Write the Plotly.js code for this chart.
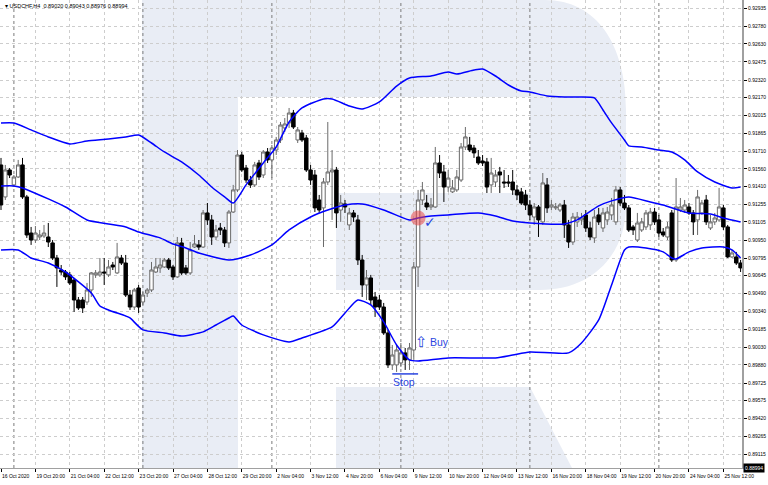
<!DOCTYPE html>
<html><head><meta charset="utf-8">
<script src="https://cdn.plot.ly/plotly-3.0.1.min.js"></script>
<style>html,body{margin:0;padding:0;background:#fff}#chart{width:768px;height:485px}</style>
</head><body><div id="chart"></div>
<script>
const symbolTitle = '\u25BE USDCHF,H4  0.89020 0.89043 0.88976 0.88994';
const lastPrice = '0.88994';

const xTickLabels = ['16 Oct 2020','19 Oct 20:00','21 Oct 04:00','22 Oct 12:00','23 Oct 20:00','27 Oct 04:00','28 Oct 12:00','29 Oct 20:00','2 Nov 04:00','3 Nov 12:00','4 Nov 20:00','6 Nov 04:00','9 Nov 12:00','10 Nov 20:00','12 Nov 04:00','13 Nov 12:00','16 Nov 20:00','18 Nov 04:00','19 Nov 12:00','20 Nov 20:00','24 Nov 04:00','25 Nov 12:00'];
const barsPerLabel = 8;

const yTickLabels = ['0.92935','0.92780','0.92630','0.92475','0.92320','0.92170','0.92015','0.91865','0.91710','0.91560','0.91410','0.91255','0.91105','0.90950','0.90795','0.90645','0.90490','0.90340','0.90185','0.90030','0.89880','0.89725','0.89575','0.89420','0.89265','0.89115'];

const open = [0.91593,0.91319,0.91550,0.91422,0.91490,0.91593,0.91319,0.91010,0.90950,0.90976,
0.90985,0.90976,0.90925,0.90796,0.90693,0.90676,0.90651,0.90608,0.90436,0.90436,
0.90419,0.90522,0.90651,0.90651,0.90676,0.90651,0.90736,0.90668,0.90796,0.90753,
0.90479,0.90376,0.90539,0.90419,0.90496,0.90522,0.90676,0.90711,0.90719,0.90779,
0.90719,0.90634,0.90925,0.90711,0.90668,0.90890,0.90908,0.90890,0.91182,0.91122,
0.90976,0.91053,0.91036,0.90925,0.91190,0.91379,0.91678,0.91567,0.91464,0.91422,
0.91610,0.91507,0.91704,0.91636,0.91721,0.91807,0.91910,0.91953,0.92038,0.91807,
0.91867,0.91824,0.91550,0.91507,0.91293,0.91225,0.91447,0.91533,0.91550,0.91207,
0.91259,0.91079,0.91182,0.91122,0.90779,0.90565,0.90625,0.90462,0.90436,0.90376,
0.90154,0.89880,0.89880,0.89897,0.89983,0.89923,0.90008,0.90719,0.91293,0.91267,
0.91233,0.91233,0.91610,0.91533,0.91404,0.91362,0.91379,0.91464,0.91747,0.91764,
0.91738,0.91661,0.91627,0.91619,0.91422,0.91447,0.91533,0.91447,0.91447,0.91447,
0.91379,0.91362,0.91336,0.91250,0.91147,0.91233,0.91105,0.91422,0.91233,0.91225,
0.91207,0.91250,0.91079,0.90933,0.91105,0.91122,0.91165,0.91053,0.90968,0.91165,
0.91053,0.91122,0.91165,0.91105,0.91379,0.91267,0.91225,0.91062,0.90950,0.91036,
0.91062,0.91079,0.91190,0.91122,0.91019,0.90976,0.91182,0.90779,0.91207,0.91207,
0.91233,0.91182,0.91122,0.91182,0.91293,0.91053,0.91105,0.91122,0.91225,0.91062,
0.90805,0.90805,0.90753];

const high = [0.91653,0.91593,0.91567,0.91507,0.91636,0.91653,0.91336,0.91062,0.91070,0.91036,
0.91079,0.91096,0.90950,0.90822,0.90736,0.90693,0.90676,0.90625,0.90462,0.90462,
0.90582,0.90676,0.90693,0.90796,0.90796,0.90779,0.90762,0.90925,0.90822,0.90822,
0.90522,0.90539,0.90565,0.90505,0.90539,0.90762,0.90796,0.90796,0.90796,0.90796,
0.90736,0.90976,0.90968,0.90736,0.90933,0.90993,0.90950,0.91207,0.91267,0.91165,
0.91079,0.91096,0.91062,0.91207,0.91422,0.91721,0.91704,0.91593,0.91499,0.91619,
0.91636,0.91721,0.91738,0.91764,0.91833,0.91961,0.91995,0.92081,0.92064,0.91918,
0.91893,0.91850,0.91593,0.91550,0.91336,0.91481,0.91961,0.91721,0.91576,0.91336,
0.91293,0.91225,0.91207,0.91165,0.90822,0.90693,0.90651,0.90505,0.90479,0.90411,
0.90180,0.90051,0.90051,0.90068,0.90025,0.90068,0.90762,0.91379,0.91447,0.91336,
0.91310,0.91747,0.91678,0.91593,0.91550,0.91464,0.91550,0.91781,0.91918,0.91833,
0.91764,0.91721,0.91678,0.91653,0.91653,0.91550,0.91576,0.91550,0.91507,0.91550,
0.91422,0.91396,0.91379,0.91293,0.91267,0.91250,0.91524,0.91481,0.91293,0.91267,
0.91267,0.91293,0.91122,0.91182,0.91190,0.91182,0.91207,0.91105,0.91207,0.91225,
0.91225,0.91233,0.91310,0.91413,0.91404,0.91336,0.91250,0.91079,0.91182,0.91139,
0.91207,0.91225,0.91225,0.91165,0.91053,0.91105,0.91207,0.91481,0.91310,0.91293,
0.91267,0.91207,0.91379,0.91293,0.91336,0.91165,0.91182,0.91396,0.91250,0.91079,
0.90865,0.90848,0.90779];

const low = [0.91207,0.91293,0.91481,0.91404,0.91481,0.91302,0.90968,0.90908,0.90925,0.90950,
0.90968,0.90890,0.90779,0.90548,0.90651,0.90608,0.90565,0.90334,0.90351,0.90325,
0.90394,0.90462,0.90625,0.90634,0.90565,0.90634,0.90693,0.90659,0.90736,0.90462,
0.90351,0.90351,0.90325,0.90394,0.90462,0.90505,0.90668,0.90668,0.90711,0.90693,
0.90608,0.90625,0.90651,0.90651,0.90651,0.90882,0.90865,0.90882,0.91079,0.90908,
0.90950,0.90993,0.90890,0.90882,0.91182,0.91362,0.91533,0.91439,0.91396,0.91404,
0.91464,0.91481,0.91610,0.91481,0.91678,0.91781,0.91875,0.91910,0.91901,0.91781,
0.91790,0.91533,0.91422,0.91190,0.91182,0.90890,0.91422,0.91122,0.91053,0.91105,
0.91182,0.91036,0.91105,0.90736,0.90462,0.90436,0.90394,0.90291,0.90351,0.90137,
0.89854,0.89837,0.89820,0.89863,0.89837,0.89837,0.89923,0.90548,0.91250,0.91207,
0.91207,0.91225,0.91481,0.91276,0.91362,0.91353,0.91362,0.91447,0.91721,0.91704,
0.91653,0.91593,0.91584,0.91353,0.91353,0.91404,0.91353,0.91396,0.91404,0.91336,
0.91293,0.91250,0.91207,0.91122,0.91079,0.90976,0.91079,0.91182,0.91207,0.91207,
0.91190,0.90968,0.90882,0.90908,0.91062,0.91079,0.91019,0.90950,0.90925,0.91079,
0.91019,0.91079,0.91122,0.91079,0.91242,0.91207,0.91019,0.90993,0.90933,0.91019,
0.91036,0.91036,0.91079,0.90976,0.90976,0.90950,0.90762,0.90762,0.91190,0.91182,
0.91165,0.90993,0.90993,0.91165,0.91079,0.91036,0.91079,0.91105,0.91036,0.90796,
0.90796,0.90736,0.90676];

const close = [0.91250,0.91550,0.91507,0.91490,0.91593,0.91319,0.90993,0.90950,0.91010,0.90993,
0.91010,0.90933,0.90796,0.90711,0.90676,0.90634,0.90582,0.90436,0.90368,0.90368,
0.90522,0.90668,0.90668,0.90676,0.90668,0.90719,0.90719,0.90805,0.90753,0.90479,
0.90376,0.90522,0.90376,0.90479,0.90522,0.90693,0.90719,0.90736,0.90779,0.90711,
0.90634,0.90925,0.90668,0.90668,0.90865,0.90916,0.90890,0.91182,0.91122,0.90976,
0.91036,0.91036,0.90925,0.91190,0.91379,0.91678,0.91550,0.91464,0.91422,0.91593,
0.91490,0.91704,0.91636,0.91738,0.91807,0.91935,0.91944,0.92038,0.91918,0.91893,
0.91807,0.91550,0.91464,0.91225,0.91207,0.91447,0.91533,0.91550,0.91182,0.91267,
0.91233,0.91182,0.91147,0.90779,0.90565,0.90625,0.90436,0.90376,0.90376,0.90154,
0.89880,0.89965,0.90008,0.89983,0.89923,0.90025,0.90719,0.91293,0.91379,0.91233,
0.91250,0.91610,0.91524,0.91404,0.91481,0.91396,0.91490,0.91747,0.91833,0.91721,
0.91696,0.91610,0.91610,0.91404,0.91524,0.91507,0.91507,0.91439,0.91439,0.91379,
0.91336,0.91267,0.91250,0.91165,0.91233,0.91122,0.91439,0.91225,0.91250,0.91233,
0.91250,0.91079,0.90933,0.91147,0.91147,0.91139,0.91053,0.90976,0.91147,0.91105,
0.91182,0.91190,0.91250,0.91379,0.91267,0.91225,0.91036,0.91036,0.91096,0.91105,
0.91182,0.91190,0.91105,0.91010,0.90993,0.91062,0.90779,0.91233,0.91233,0.91250,
0.91182,0.91105,0.91319,0.91267,0.91105,0.91105,0.91139,0.91233,0.91062,0.90805,
0.90839,0.90753,0.90711];

// Bollinger Bands (bar index, price)
const upperBar = [0,3,7,11,16,20,25,29,32,35,38,42,46,49,52,54,57,61,64,67,70,75,77,81,84,88,92,95,100,104,106,110,112,115,118,121,123,127,131,134,138,140,142,145,146,149,153,156,159,162,166,170,172];
const upperVal = [0.91953,0.91953,0.91893,0.91833,0.91773,0.91798,0.91815,0.91833,0.91850,0.91781,0.91704,0.91619,0.91507,0.91404,0.91319,0.91267,0.91422,0.91610,0.91747,0.91961,0.92081,0.92158,0.92158,0.92098,0.92072,0.92133,0.92269,0.92338,0.92355,0.92389,0.92372,0.92406,0.92415,0.92355,0.92278,0.92227,0.92218,0.92184,0.92175,0.92175,0.92167,0.92064,0.91953,0.91807,0.91756,0.91747,0.91721,0.91704,0.91636,0.91533,0.91447,0.91396,0.91404];

const middleBar = [0,3,5,11,15,20,25,29,32,37,40,43,46,53,58,63,67,72,76,80,84,89,93,95,97,100,104,111,115,119,123,131,134,139,142,146,151,154,160,165,168,172];
const middleVal = [0.91413,0.91413,0.91396,0.91302,0.91233,0.91122,0.91088,0.91062,0.91019,0.90968,0.90916,0.90882,0.90839,0.90779,0.90822,0.90908,0.91036,0.91147,0.91207,0.91250,0.91259,0.91207,0.91147,0.91122,0.91139,0.91156,0.91165,0.91182,0.91156,0.91113,0.91096,0.91088,0.91122,0.91242,0.91285,0.91319,0.91276,0.91250,0.91182,0.91173,0.91139,0.91105];

const lowerBar = [0,4,7,11,15,21,23,25,29,30,33,38,42,47,50,53,54,56,61,67,70,77,80,83,86,89,92,95,97,104,115,119,123,132,135,139,142,145,146,150,154,156,157,160,163,168,170,172];
const lowerVal = [0.90865,0.90865,0.90796,0.90753,0.90676,0.90496,0.90385,0.90351,0.90299,0.90282,0.90180,0.90154,0.90128,0.90163,0.90222,0.90282,0.90299,0.90222,0.90137,0.90077,0.90111,0.90205,0.90325,0.90436,0.90394,0.90248,0.90051,0.89923,0.89914,0.89940,0.89940,0.89965,0.89991,0.89983,0.90068,0.90265,0.90565,0.90865,0.90890,0.90882,0.90848,0.90796,0.90788,0.90848,0.90882,0.90890,0.90865,0.90796];

const weekStartBars = [3,33,63,93,123,153];
const signalBar = 97;
const signalPrice = 0.91139;
const stopBars = [91, 97];
const stopPrice = 0.89803;

const bars = open.map((_, i) => i);
const W = 742, H = 468;
const px = x => x / W, py = y => 1 - y / H;
function path(cmds) {
  return cmds.map(c => c[0] + ' ' + c.slice(1).map((v, k) => (k % 2 === 0 ? px(v) : py(v)).toFixed(5)).join(',')).join(' ') + ' Z';
}
const wm = '#e9edf5';
const shapes = [
  {type:'rect', xref:'paper', yref:'paper', x0:px(142), x1:px(238), y0:0, y1:1, fillcolor:wm, line:{width:0}, layer:'below'},
  {type:'path', xref:'paper', yref:'paper', layer:'below', fillcolor:wm, line:{width:0},
   path: path([['M',238,0],['L',545,0],['C',597,0,626,45,626,110],['L',626,205],['C',626,255,592,290,540,290],['L',336,290],['L',336,193],['L',530,193],['L',530,97],['L',238,97]])},
  {type:'path', xref:'paper', yref:'paper', layer:'below', fillcolor:wm, line:{width:0},
   path: path([['M',336,387],['L',530,387],['L',572,468],['L',336,468]])}
];
weekStartBars.forEach(b => shapes.push({type:'line', xref:'x', yref:'paper', x0:b, x1:b, y0:0, y1:1, layer:'between', line:{color:'#7a7a7a', width:1, dash:'dot'}}));

const bandLine = {color:'#0000ff', width:1.5, shape:'spline', smoothing:0.6};
const traces = [
  {type:'scatter', mode:'lines', x:upperBar, y:upperVal, line:bandLine, hoverinfo:'skip'},
  {type:'scatter', mode:'lines', x:middleBar, y:middleVal, line:bandLine, hoverinfo:'skip'},
  {type:'scatter', mode:'lines', x:lowerBar, y:lowerVal, line:bandLine, hoverinfo:'skip'},
  {type:'candlestick', x:bars, open:open, high:high, low:low, close:close, whiskerwidth:0,
   increasing:{line:{color:'#6a6a6a', width:1}, fillcolor:'#ffffff'},
   decreasing:{line:{color:'#000000', width:1}, fillcolor:'#000000'}},
  {type:'scatter', mode:'lines', x:stopBars, y:[stopPrice, stopPrice], line:{color:'#2a45e0', width:1.5}, hoverinfo:'skip'},
  {type:'scatter', mode:'markers', x:[signalBar], y:[signalPrice], marker:{size:15, color:'rgba(232,70,70,0.55)'}, hoverinfo:'skip'}
];

const tickFont = {family:'Liberation Sans, Arial, sans-serif', size:5, color:'#000'};
const layout = {
  width:768, height:485, margin:{l:0, r:26, t:0, b:17, pad:0},
  paper_bgcolor:'#ffffff', plot_bgcolor:'#ffffff', showlegend:false,
  boxgap:0.2, boxgroupgap:0,
  xaxis:{range:[-0.233, 172.33], tickvals:xTickLabels.map((_, k) => k * barsPerLabel), ticktext:xTickLabels,
    tickangle:0, ticklabelposition:'outside right', ticklabelstandoff:3, ticks:'outside', ticklen:3, tickcolor:'#000', tickfont:tickFont,
    showgrid:true, gridcolor:'#cdcdcd', griddash:'dot', gridwidth:1, zeroline:false,
    showline:true, linecolor:'#a0a0a0', linewidth:1, rangeslider:{visible:false}, fixedrange:true},
  yaxis:{side:'right', range:[0.88997, 0.93006], tickvals:yTickLabels.map(Number), ticktext:yTickLabels,
    ticks:'outside', ticklen:3, tickcolor:'#000', tickfont:tickFont,
    showgrid:true, gridcolor:'#cdcdcd', griddash:'dot', gridwidth:1, zeroline:false,
    showline:true, linecolor:'#a0a0a0', linewidth:2, fixedrange:true},
  shapes:shapes,
  annotations:[
    {text:symbolTitle, xref:'paper', yref:'paper', x:0.004, y:0.997, xanchor:'left', yanchor:'top', showarrow:false, font:{family:'Liberation Sans, Arial, sans-serif', size:5.5, color:'#000'}},
    {text:lastPrice, xref:'paper', yref:'paper', x:1, y:0, xanchor:'left', yanchor:'middle', xshift:1, showarrow:false, bgcolor:'#000', borderpad:1, font:{family:'Liberation Sans, Arial, sans-serif', size:5, color:'#fff'}},
    {text:'\u2713', xref:'x', yref:'y', x:99.8, y:0.91105, showarrow:false, font:{family:'DejaVu Sans', size:14, color:'#2a45e0'}},
    {text:'\u21E7', xref:'x', yref:'y', x:97.9, y:0.90077, showarrow:false, font:{family:'DejaVu Sans', size:15, color:'#2a45e0'}},
    {text:'Buy', xref:'x', yref:'y', x:101.9, y:0.90077, showarrow:false, font:{family:'Liberation Sans, Arial, sans-serif', size:10.5, color:'#2a45e0'}},
    {text:'Stop', xref:'x', yref:'y', x:93.8, y:0.89734, showarrow:false, font:{family:'Liberation Sans, Arial, sans-serif', size:10.5, color:'#2a45e0'}}
  ]
};
Plotly.newPlot('chart', traces, layout, {staticPlot:true, displayModeBar:false});
</script></body></html>
